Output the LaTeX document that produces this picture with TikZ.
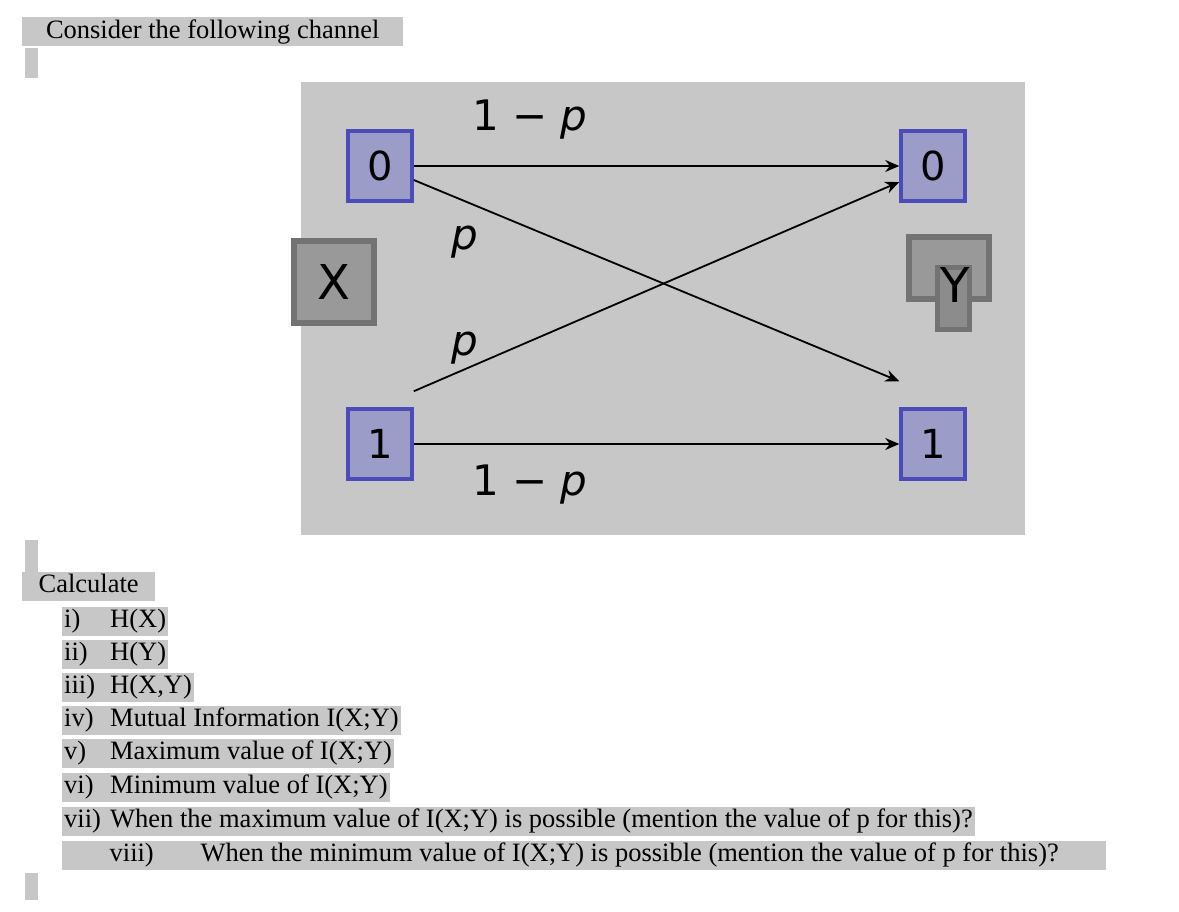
\documentclass[tikz,border=0pt]{standalone}
\usepackage{fontspec}
\setmainfont{Liberation Serif}
\setsansfont{DejaVu Sans}
\usetikzlibrary{arrows.meta}
\newcommand{\lab}[2]{\makebox[#1][l]{#2}}
\begin{document}
\begin{tikzpicture}[x=1pt,y=-1pt,
  hl/.style={fill=black!22,inner sep=2pt,anchor=west,align=left,font=\fontsize{26.5}{30}\selectfont,text height=19pt,text depth=6pt},
  sym/.style={draw=blue!60!black!70,fill=blue!30!gray!60,line width=3.5pt,minimum width=64pt,minimum height=70pt,inner sep=0pt,font=\sffamily\fontsize{40}{44}\selectfont},
  lbl/.style={font=\sffamily\fontsize{42}{46}\selectfont},
  arr/.style={line width=1.8pt,-{Stealth[length=14pt,width=12pt]}}]
\useasboundingbox (0,0) rectangle (1179,912);
\fill[white] (0,0) rectangle (1179,912);
% top text
\node[hl,minimum width=381pt] (t1) at (22,32) {Consider the following channel};
\fill[black!22] (25,48) rectangle (38,78);
% diagram area
\fill[black!22] (301,82) rectangle (1025,535);
\node[sym] (a0) at (380,166) {0};
\node[sym] (a1) at (380,444) {1};
\node[sym] (b0) at (933,166) {0};
\node[sym] (b1) at (933,444) {1};
\node[draw=black!55,fill=black!40,line width=6pt,minimum width=80pt,minimum height=82pt,font=\sffamily\fontsize{48}{50}\selectfont] (X) at (334,282) {X};
\node[draw=black!55,fill=black!40,line width=6pt,minimum width=80pt,minimum height=62pt] (Y) at (949,268) {};
\node[draw=black!55,fill=black!45,line width=5pt,minimum width=32pt,minimum height=62pt] (Yb) at (953,299) {};
\node[font=\sffamily\fontsize{48}{50}\selectfont] (Yt) at (955,285) {Y};
\draw[arr] (a0.east) -- (b0.west);
\draw[arr] (a1.east) -- (b1.west);
\draw[arr] ([yshift=-14pt]a0.east) -- ([yshift=26pt]b1.north west);
\draw[arr] ([yshift=16pt]a1.north east) -- ([yshift=-16pt]b0.west);
\node[lbl] (l1) at (530,120) {1 − \textit{p}};
\node[lbl] (l2) at (465,242) {\textit{p}};
\node[lbl] (l3) at (465,348) {\textit{p}};
\node[lbl] (l4) at (530,485) {1 − \textit{p}};
% calculate
\fill[black!22] (25,540) rectangle (38,572);
\node[hl,minimum width=133pt] (c) at (22,586) {Calculate};
\node[hl] (i1) at (62,621) {\lab{46pt}{i)}H(X)};
\node[hl] (i2) at (62,654) {\lab{46pt}{ii)}H(Y)};
\node[hl] (i3) at (62,687) {\lab{46pt}{iii)}H(X,Y)};
\node[hl] (i4) at (62,720) {\lab{46pt}{iv)}Mutual Information I(X;Y)};
\node[hl] (i5) at (62,753) {\lab{46pt}{v)}Maximum value of I(X;Y)};
\node[hl] (i6) at (62,787) {\lab{46pt}{vi)}Minimum value of I(X;Y)};
\node[hl] (i7) at (62,821) {\lab{46pt}{vii)}When the maximum value of I(X;Y) is possible (mention the value of p for this)?};
\node[hl,minimum width=1044pt] (i8) at (62,855) {\lab{91pt}{viii)}When the minimum value of I(X;Y) is possible (mention the value of p for this)?};
\fill[black!22] (25,873) rectangle (38,900);
\end{tikzpicture}
\end{document}
